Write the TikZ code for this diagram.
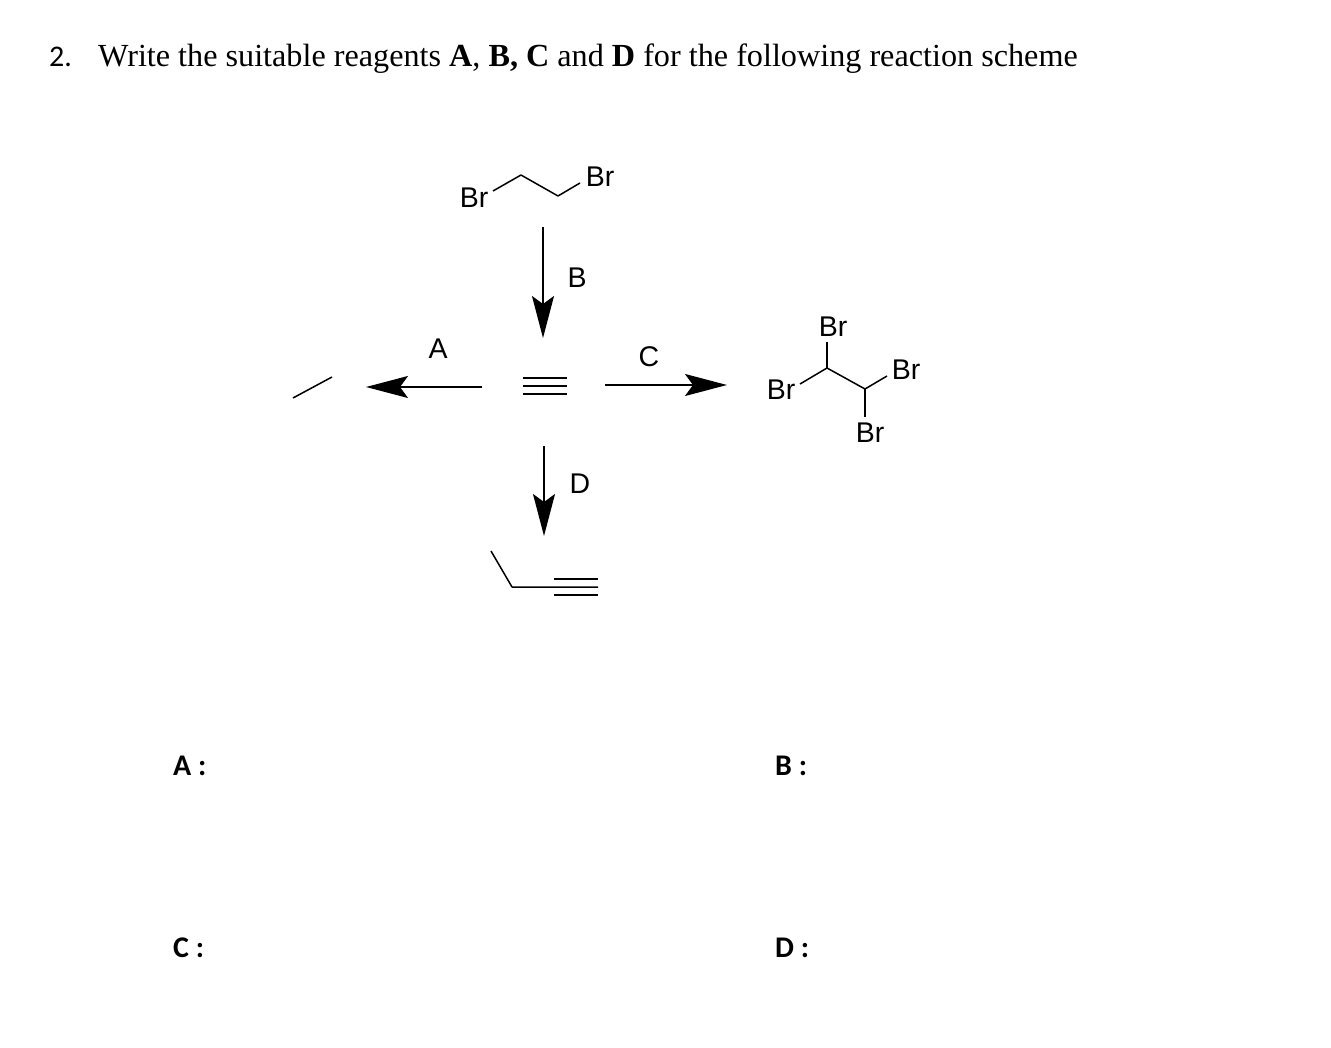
\documentclass[tikz,border=0pt]{standalone}
\usepackage{fontspec}
\setmainfont{Liberation Serif}
\newfontfamily\arialf{Liberation Sans}
\newfontfamily\calf{Carlito}
\usetikzlibrary{arrows.meta}
\tikzset{
 bond/.style={line width=1.5pt,black},
 rarrow/.style={line width=1.7pt,black,-{Stealth[length=42pt,width=22pt,inset=8pt]}},
 chem/.style={font=\arialf\fontsize{28.5}{30}\selectfont,inner sep=0pt,text=black},
 ans/.style={font=\calf\bfseries\fontsize{30}{32}\selectfont,inner sep=0pt,anchor=base west}
}
\begin{document}
\begin{tikzpicture}[x=1pt,y=-1pt]
\useasboundingbox (0,0) rectangle (1331,1048);
\fill[white] (0,0) rectangle (1331,1048);
\node[inner sep=0pt,anchor=base west,font=\calf\fontsize{30}{32}\selectfont] (num) at (49,66.5) {2.};
\node[inner sep=0pt,anchor=base west,font=\fontsize{32.2}{34}\selectfont] (title) at (98,66.5) {Write the suitable reagents \textbf{A}, \textbf{B, C} and \textbf{D} for the following reaction scheme};
% top
\node[chem] (br1) at (474,198) {Br};
\node[chem] (br2) at (600,177) {Br};
\coordinate (t0) at (493,191);
\coordinate (t1) at (521,175);
\coordinate (t2) at (558,196);
\coordinate (t3) at (580,183);
\draw[bond,line join=round] (t0) -- (t1) -- (t2) -- (t3);
% alkyne centre
\coordinate (c1) at (523,386); \coordinate (c2) at (567,386);
\draw[bond] (c1) -- (c2);
\draw[bond] ([yshift=8]c1) -- ([yshift=8]c2);
\draw[bond] ([yshift=-8]c1) -- ([yshift=-8]c2);
% arrows
\coordinate (bs) at (543,227); \coordinate (be) at (543,338);
\draw[rarrow] (bs) -- (be);
\coordinate (as) at (482,387); \coordinate (ae) at (366,387);
\draw[rarrow] (as) -- (ae);
\coordinate (cs) at (605,385); \coordinate (ce) at (727,385);
\draw[rarrow] (cs) -- (ce);
\coordinate (ds) at (544,446); \coordinate (de) at (544,536);
\draw[rarrow] (ds) -- (de);
\node[chem] (la) at (438,349) {A};
\node[chem] (lb) at (577,278) {B};
\node[chem] (lc) at (649,357) {C};
\node[chem] (ld) at (580,484) {D};
% ethane
\coordinate (e1) at (293,398); \coordinate (e2) at (332,377);
\draw[bond] (e1) -- (e2);
% bottom
\coordinate (b1) at (491,551); \coordinate (b2) at (512,587); \coordinate (b3) at (554,587); \coordinate (b4) at (598,587);
\draw[bond,line join=round] (b1) -- (b2) -- (b4);
\draw[bond] ([yshift=-8]b3) -- ([yshift=-8]b4);
\draw[bond] ([yshift=8]b3) -- ([yshift=8]b4);
% right
\node[chem] (r1) at (781,390) {Br};
\node[chem] (r2) at (833,327) {Br};
\node[chem] (r3) at (906,370) {Br};
\node[chem] (r4) at (870,433) {Br};
\coordinate (m0) at (800,384);
\coordinate (m1) at (827,368); \coordinate (m2) at (865,389); \coordinate (m3) at (887,376);
\coordinate (m4) at (827,342); \coordinate (m5) at (865,417);
\draw[bond,line join=round] (m0) -- (m1) -- (m2) -- (m3);
\draw[bond] (m1) -- (m4);
\draw[bond] (m2) -- (m5);
% answers
\node[ans] (aa) at (173,775) {A :};
\node[ans] (ab) at (775,775) {B :};
\node[ans] (ac) at (173,957) {C :};
\node[ans] (ad) at (775,957) {D :};
\end{tikzpicture}
\end{document}
